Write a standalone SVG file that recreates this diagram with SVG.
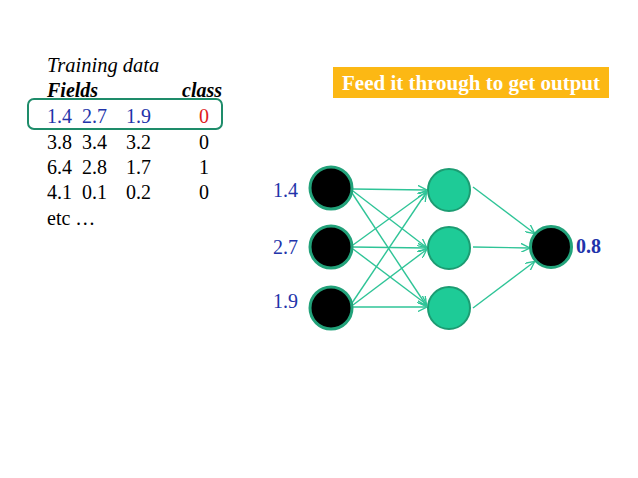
<svg xmlns="http://www.w3.org/2000/svg" width="638" height="478" viewBox="0 0 638 478">
<defs>
<marker id="arr" viewBox="0 0 10 10" refX="9" refY="5" markerWidth="9" markerHeight="9" markerUnits="userSpaceOnUse" orient="auto">
<path d="M0,0 L10,5 L0,10" fill="none" stroke="#2FC497" stroke-width="1.5"/>
</marker>
<style>
.t{font-family:"Liberation Serif","Times New Roman",serif;font-size:20px;fill:#000}
.b{fill:#2233AA}
.r{fill:#E01B1B}
.e{stroke:#2FC497;stroke-width:1.4;fill:none;marker-end:url(#arr)}
.in{fill:#000;stroke:#22A27A;stroke-width:3}
.hid{fill:#1ECB97;stroke:#1C9C72;stroke-width:2}
</style>
</defs>
<rect width="638" height="478" fill="#fff"/>
<g id="table">
<text class="t" x="47" y="72" font-style="italic" font-size="20.5" style="font-size:20.5px">Training data</text>
<text class="t" x="47" y="97" font-style="italic" font-weight="bold">Fields</text>
<text class="t" x="222" y="97" font-style="italic" font-weight="bold" text-anchor="end">class</text>
<rect x="28" y="99" width="194" height="30" rx="6" fill="none" stroke="#1E8C6A" stroke-width="2"/>
<text class="t b" x="47" y="123">1.4</text><text class="t b" x="82" y="123">2.7</text><text class="t b" x="126" y="123">1.9</text><text class="t r" x="209" y="123" text-anchor="end">0</text>
<text class="t" x="47" y="149">3.8</text><text class="t" x="82" y="149">3.4</text><text class="t" x="126" y="149">3.2</text><text class="t" x="209" y="149" text-anchor="end">0</text>
<text class="t" x="47" y="174">6.4</text><text class="t" x="82" y="174">2.8</text><text class="t" x="126" y="174">1.7</text><text class="t" x="209" y="174" text-anchor="end">1</text>
<text class="t" x="47" y="199">4.1</text><text class="t" x="82" y="199">0.1</text><text class="t" x="126" y="199">0.2</text><text class="t" x="209" y="199" text-anchor="end">0</text>
<text class="t" x="47" y="225">etc …</text>
</g>
<g id="banner">
<rect x="333" y="67" width="276" height="31" fill="#FCB814"/>
<text class="t" x="471" y="90" font-weight="bold" style="fill:#fff;font-size:21px" text-anchor="middle">Feed it through to get output</text>
</g>
<g id="connectors">
<line class="e" x1="353" y1="189" x2="426" y2="190"/>
<line class="e" x1="353" y1="191" x2="426" y2="247"/>
<line class="e" x1="352" y1="193" x2="426" y2="305"/>
<line class="e" x1="353" y1="245" x2="426" y2="192"/>
<line class="e" x1="353" y1="247" x2="426" y2="248"/>
<line class="e" x1="353" y1="249" x2="426" y2="304"/>
<line class="e" x1="352" y1="303" x2="426" y2="193"/>
<line class="e" x1="353" y1="305" x2="426" y2="250"/>
<line class="e" x1="353" y1="307" x2="426" y2="307"/>
<line class="e" x1="473" y1="187" x2="534" y2="233"/>
<line class="e" x1="473" y1="247" x2="529" y2="248"/>
<line class="e" x1="473" y1="308" x2="534" y2="262"/>
</g>
<g id="in1"><circle class="in" cx="331" cy="188" r="21"/><text class="t b" x="273" y="197">1.4</text></g>
<g id="in2"><circle class="in" cx="331" cy="247" r="21"/><text class="t b" x="273" y="254">2.7</text></g>
<g id="in3"><circle class="in" cx="331" cy="308" r="21"/><text class="t b" x="273" y="308">1.9</text></g>
<g id="h1"><circle class="hid" cx="449" cy="190" r="21"/></g>
<g id="h2"><circle class="hid" cx="449" cy="248" r="21"/></g>
<g id="h3"><circle class="hid" cx="449" cy="308" r="21"/></g>
<g id="out"><circle class="in" cx="551" cy="247" r="20.5"/><text class="t b" x="576" y="253" font-weight="bold">0.8</text></g>
</svg>
